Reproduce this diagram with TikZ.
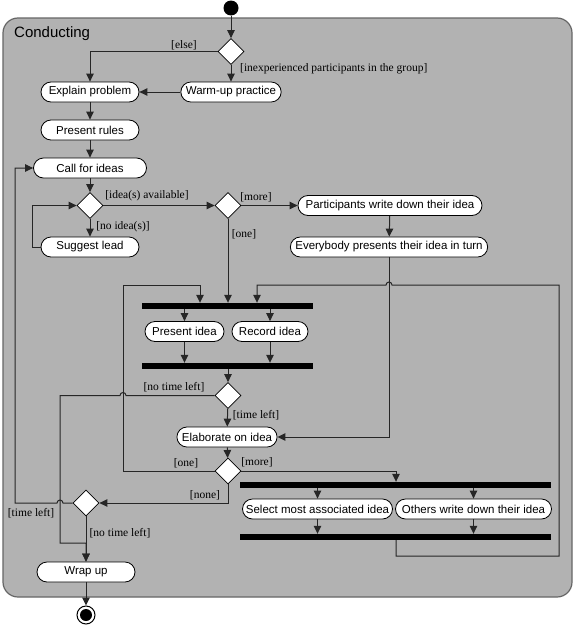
\documentclass[tikz,border=0pt]{standalone}
\usepackage{fontspec}
\setmainfont{Liberation Serif}
\setsansfont{Liberation Sans}
\usetikzlibrary{arrows.meta}
\usetikzlibrary{shapes.geometric}
\tikzset{
  activity/.style={draw=black, fill=white, line width=0.8pt, rounded corners=10pt,
    minimum height=20pt, minimum width=98pt, inner xsep=5pt, inner ysep=0pt,
    font=\sffamily\fontsize{11.5}{13}\selectfont},
  choice/.style={diamond, draw=black, fill=white, line width=0.8pt,
    minimum width=26pt, minimum height=26pt, inner sep=0pt},
  syncbar/.style={fill=black, inner sep=0pt, minimum height=6pt},
  guard/.style={inner sep=0pt, font=\rmfamily\fontsize{11.5}{12}\selectfont},
  flow/.style={draw=black!85, line width=1pt, -{Triangle[length=8pt,width=7.5pt]}},
}

\begin{document}
\begin{tikzpicture}[x=1pt,y=-1pt]
\useasboundingbox (0,0) rectangle (578,629);
\draw[fill=black!30, draw=black!60, line width=1.2pt, rounded corners=15pt] (3,18) rectangle (572,597);
\node[anchor=west, inner sep=0pt, font=\sffamily\fontsize{15}{17}\selectfont] (title) at (14,34) {Conducting};

\node[circle, fill=black, minimum size=15pt, inner sep=0pt] (start) at (231,8) {};
\node[choice] (d1) at (231,51.5) {};
\node[activity] (warm) at (231,92) {Warm-up practice};
\node[activity] (explain) at (90,92) {Explain problem};
\node[activity] (rules) at (90,130) {Present rules};
\node[activity, minimum width=113pt] (call) at (90,168) {Call for ideas};
\node[choice] (d2) at (90,205.5) {};
\node[activity] (lead) at (90,247) {Suggest lead};
\node[choice] (d3) at (228,205.5) {};
\node[activity, minimum width=184pt] (write) at (390,205.5) {Participants write down their idea};
\node[activity] (everyone) at (389,247) {Everybody presents their idea in turn};
\node[syncbar, minimum width=171pt] (bar1) at (227.5,306) {};
\node[activity, minimum width=79pt] (present) at (184.5,331.5) {Present idea};
\node[activity, minimum width=76pt] (record) at (270,331.5) {Record idea};
\node[syncbar, minimum width=171pt] (bar2) at (227.5,366) {};
\node[choice] (d4) at (228,395.5) {};
\node[activity] (elaborate) at (227,437) {Elaborate on idea};
\node[choice] (d5) at (228,471) {};
\node[syncbar, minimum width=311pt] (bar3) at (395.5,485) {};
\node[activity, minimum width=150pt, inner xsep=3pt] (select) at (317.5,509) {Select most associated idea};
\node[activity, minimum width=156pt, inner xsep=3pt] (others) at (473.5,509) {Others write down their idea};
\node[syncbar, minimum width=311pt] (bar4) at (395.5,537) {};
\node[choice] (d6) at (86,503) {};
\node[activity] (wrap) at (86,572) {Wrap up};
\node[circle, draw=black, fill=white, line width=1pt, minimum size=18pt, inner sep=0pt] (stop) at (86,615) {};
\node[circle, fill=black, minimum size=12pt, inner sep=0pt] (stopdot) at (stop) {};

\node[guard] (g-else) at (184,45) {[else]};
\node[guard, anchor=west] (g-inexp) at (240,69) {[inexperienced participants in the group]};
\node[guard] (g-avail) at (147,196) {[idea(s) available]};
\node[guard] (g-noidea) at (123,227) {[no idea(s)]};
\node[guard] (g-more1) at (256,197) {[more]};
\node[guard] (g-one1) at (244,234.5) {[one]};
\node[guard] (g-notime1) at (174,387) {[no time left]};
\node[guard] (g-time1) at (256,415) {[time left]};
\node[guard] (g-one2) at (186,463) {[one]};
\node[guard] (g-more2) at (257,462) {[more]};
\node[guard] (g-none) at (205,495) {[none]};
\node[guard] (g-time2) at (31,513) {[time left]};
\node[guard] (g-notime2) at (120,533) {[no time left]};

\coordinate (r1) at (396,556);
\coordinate (r2) at (559,556);
\coordinate (r3) at (559,285);
\coordinate (hop0) at (392,285);
\coordinate (r4) at (257,285);
\coordinate (hop1) at (126,395.5);
\coordinate (n1) at (60,395.5);
\coordinate (n2) at (60,543);
\coordinate (o1) at (123,471);
\coordinate (o2) at (123,285);
\coordinate (o3) at (200,285);
\coordinate (m1) at (396,471);
\coordinate (hop2) at (63,503);
\coordinate (t1) at (15,503);
\coordinate (t2) at (15,168);

\draw[flow] (start) -- (d1);
\draw[flow] (d1) -- (warm);
\draw[flow] (d1.west) -| (explain.north);
\draw[flow] (warm) -- (explain);
\draw[flow] (explain) -- (rules);
\draw[flow] (rules) -- (call);
\draw[flow] (call) -- (d2);
\draw[flow] (d2) -- (lead);
\draw[flow] (lead.west) -- ++(-8,0) |- (d2.west);
\draw[flow] (d2) -- (d3);
\draw[flow] (d3) -- (write);
\draw[flow] (write) -- (everyone);
\draw[flow] (d3.south) -- (d3.south |- bar1.north);
\draw[flow] (everyone.south) |- (elaborate.east);
\draw[flow] (r1 |- bar4.south) -- (r1) -- (r2) -- (r3) -- (hop0)
  arc[start angle=0, end angle=180, radius=3pt] -- (r4) -- (r4 |- bar1.north);
\draw[flow] (present.north |- bar1.south) -- (present.north);
\draw[flow] (record.north |- bar1.south) -- (record.north);
\draw[flow] (present.south) -- (present.south |- bar2.north);
\draw[flow] (record.south) -- (record.south |- bar2.north);
\draw[flow] (d4.north |- bar2.south) -- (d4.north);
\draw[flow] (d4.west) -- (hop1)
  arc[start angle=0, end angle=180, radius=3pt] -- (n1) -- (n2) -| (wrap.north);
\draw[flow] (d4) -- (elaborate);
\draw[flow] (elaborate) -- (d5);
\draw[flow] (d5.west) -- (o1) -- (o2) -- (o3) -- (o3 |- bar1.north);
\draw[flow] (d5.east) -- (m1) -- (m1 |- bar3.north);
\draw[flow] (d5.south) |- (d6.east);
\draw[flow] (select.north |- bar3.south) -- (select.north);
\draw[flow] (others.north |- bar3.south) -- (others.north);
\draw[flow] (select.south) -- (select.south |- bar4.north);
\draw[flow] (others.south) -- (others.south |- bar4.north);
\draw[flow] (d6.west) -- (hop2)
  arc[start angle=0, end angle=180, radius=3pt] -- (t1) -- (t2) -- (call.west);
\draw[flow] (d6) -- (wrap);
\draw[flow] (wrap) -- (stop);
\end{tikzpicture}
\end{document}
